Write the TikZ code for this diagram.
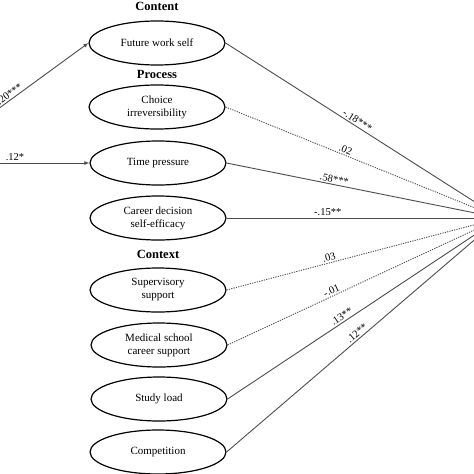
\documentclass[tikz,border=0pt]{standalone}
\usepackage{fontspec}
\setmainfont{Liberation Serif}
\usetikzlibrary{arrows.meta,shapes.geometric}
\begin{document}
\begin{tikzpicture}[x=1pt,y=-1pt,
 latent/.style={draw=black, line width=1.2pt, ellipse, minimum width=136pt, minimum height=44pt, inner sep=0pt, align=center, font=\fontsize{11}{13}\selectfont},
 heading/.style={font=\fontsize{12.5}{14}\selectfont\bfseries, inner sep=0pt},
 pathline/.style={draw=black!70, line width=0.9pt},
 nspath/.style={pathline, dash pattern=on 1.2pt off 1.2pt},
 coef/.style={sloped, above, inner sep=1.5pt, font=\fontsize{10.5}{12}\selectfont},
 arr/.style={pathline, -{Latex[length=5pt,width=4pt]}}
]
\useasboundingbox (0,0) rectangle (474,474);
\clip (0,0) rectangle (474,474);
\node[heading] (hcontent) at (157,6) {Content};
\node[latent] (fws) at (157,43) {Future work self};
\node[heading] (hprocess) at (157,74) {Process};
\node[latent] (ci) at (157,107) {Choice\\irreversibility};
\node[latent] (tp) at (158,163) {Time pressure};
\node[latent] (cdse) at (158,218) {Career decision\\self-efficacy};
\node[heading] (hcontext) at (158,254) {Context};
\node[latent] (ss) at (158,290) {Supervisory\\support};
\node[latent] (ms) at (159,345) {Medical school\\career support};
\node[latent] (sl) at (159,399) {Study load};
\node[latent] (comp) at (158,452) {Competition};
\coordinate (out) at (500,218);
\coordinate (src) at (-76,163);
% outgoing paths
\draw[pathline] (fws.east) -- node[coef,pos=0.47]{-.18***} (out);
\draw[nspath] (ci.east) -- node[coef,pos=0.43]{.02} (out);
\draw[pathline] (tp.east) -- node[coef,pos=0.39]{.58***} (out);
\draw[pathline] (cdse.east) -- node[coef,pos=0.37]{-.15**} (out);
\draw[nspath] (ss.east) -- node[coef,pos=0.38]{.03} (out);
\draw[nspath] (ms.east) -- node[coef,pos=0.39]{-.01} (out);
\draw[pathline] (sl.east) -- node[coef,pos=0.43]{.13**} (out);
\draw[pathline] (comp.east) -- node[coef,pos=0.49]{.12**} (out);
% incoming paths
\draw[arr] (src) -- node[coef,pos=0.54]{.20***} (fws.west);
\draw[arr] (src) -- node[coef,pos=0.55]{.12*} (tp.west);
\end{tikzpicture}
\end{document}
